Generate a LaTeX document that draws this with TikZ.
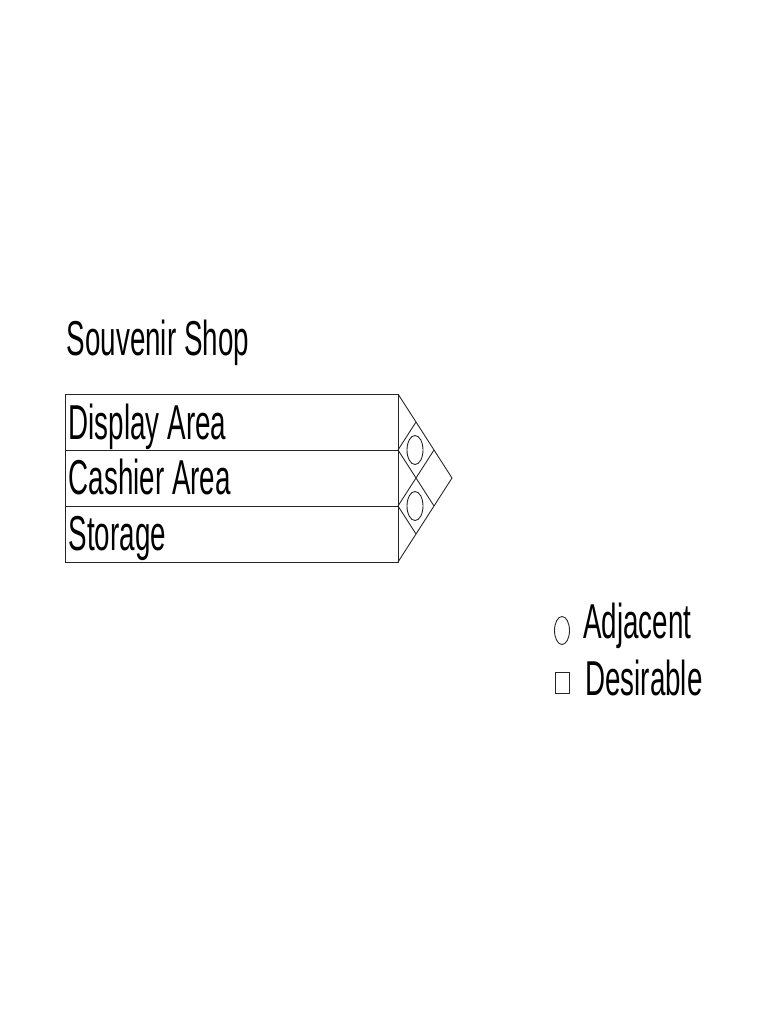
\documentclass[tikz,border=0pt]{standalone}
\usepackage{fontspec}
\usetikzlibrary{shapes.geometric}
\newfontfamily\cond[FakeStretch=0.567]{Liberation Sans}
\begin{document}
\begin{tikzpicture}[x=1pt,y=-1pt,
  ln/.style={draw=black!85,line width=0.9pt},
  lbl/.style={anchor=base west,inner sep=0pt,font=\cond\fontsize{49}{49}\selectfont},
  rowbox/.style={ln,anchor=north west,minimum width=333pt,minimum height=56pt,inner sep=0pt,outer sep=0pt},
  relmark/.style={ln,ellipse,minimum width=16pt,minimum height=29pt,inner sep=0pt}]
\useasboundingbox (0,0) rectangle (768,1024);
% title
\node[lbl] (title) at (66.5,355) {Souvenir Shop};
% rows
\node[rowbox] (r1) at (65,394) {};
\node[rowbox] (r2) at (65,450) {};
\node[rowbox] (r3) at (65,506) {};
\node[lbl] (t1) at (68.5,439) {Display Area};
\node[lbl] (t2) at (68.5,494.5) {Cashier Area};
\node[lbl] (t3) at (68.5,550.5) {Storage};
% matrix points
\coordinate (b0) at (r1.north east);
\coordinate (b1) at (r1.south east);
\coordinate (b2) at (r2.south east);
\coordinate (b3) at (r3.south east);
\coordinate (apex) at (452,478);
\coordinate (u1) at (416,422);
\coordinate (u2) at (434,450);
\coordinate (d1) at (434,506);
\coordinate (d2) at (416,534);
\draw[ln,line join=miter] (b0) -- (apex) -- (b3);
\draw[ln] (u1) -- (b1) -- (d1);
\draw[ln] (u2) -- (b2) -- (d2);
% relationship marks
\node[relmark] (m12) at (415,450) {};
\node[relmark] (m23) at (415,506) {};
% legend
\node[relmark,minimum width=15pt,minimum height=28pt] (lc) at (562,630.5) {};
\node[lbl] (la) at (583,638.5) {Adjacent};
\node[ln,rectangle,minimum width=14pt,minimum height=21pt,inner sep=0pt] (ls) at (562.5,682.5) {};
\node[lbl] (ld) at (585,695) {Desirable};
\end{tikzpicture}
\end{document}
